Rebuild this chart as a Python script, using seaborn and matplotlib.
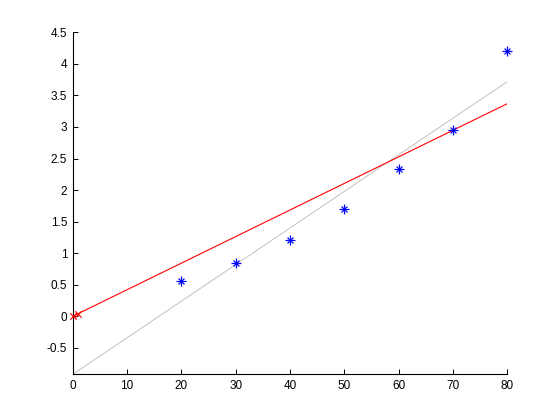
import matplotlib
matplotlib.use("Agg")
import matplotlib.pyplot as plt
import seaborn as sns
import pandas as pd

# data
pts_x = [20, 30, 40, 50, 60, 70, 80]
pts_y = [0.565, 0.85, 1.214, 1.704, 2.337, 2.954, 4.20]
red_line_x = [0, 80]
red_line_y = [0.0, 3.37]
red_mark_x = [0, 1]
red_mark_y = [0.0, 0.042]
gray_line_x = [0, 80]
gray_line_y = [-0.92, 3.72]
x_ticks = [0, 10, 20, 30, 40, 50, 60, 70, 80]
y_ticks = [-0.5, 0, 0.5, 1, 1.5, 2, 2.5, 3, 3.5, 4, 4.5]

sns.set_style("ticks")
plt.rcParams['font.family'] = ['Liberation Sans', 'DejaVu Sans']

fig = plt.figure(figsize=(5.6, 4.2), dpi=100)
ax = fig.add_axes([0.130, 0.1095, 0.776, 0.8135])

gray_df = pd.DataFrame({"x": gray_line_x, "y": gray_line_y})
red_df = pd.DataFrame({"x": red_line_x, "y": red_line_y})
redm_df = pd.DataFrame({"x": red_mark_x, "y": red_mark_y})
pts_df = pd.DataFrame({"x": pts_x, "y": pts_y})

sns.lineplot(data=gray_df, x="x", y="y", ax=ax, color=(0.72, 0.72, 0.72), linewidth=0.6)
sns.lineplot(data=red_df, x="x", y="y", ax=ax, color="red", linewidth=0.8)
sns.scatterplot(data=redm_df, x="x", y="y", ax=ax, marker="x", color="red", s=22, linewidth=0.8, clip_on=False, zorder=3)
sns.scatterplot(data=pts_df, x="x", y="y", ax=ax, marker="+", color="blue", s=60, linewidth=0.9, clip_on=False, zorder=3)
sns.scatterplot(data=pts_df, x="x", y="y", ax=ax, marker="x", color="blue", s=18, linewidth=0.9, clip_on=False, zorder=3)

ax.set_xlim(0, 80)
ax.set_ylim(-0.915, 4.5)
ax.set_xticks(x_ticks)
ax.set_yticks(y_ticks)
ax.set_xticklabels([str(t) for t in x_ticks])
ax.set_yticklabels([("%g" % t) for t in y_ticks])
ax.set_xlabel("")
ax.set_ylabel("")
for s in ["top", "right"]:
    ax.spines[s].set_visible(False)
for s in ["left", "bottom"]:
    ax.spines[s].set_linewidth(0.8)
    ax.spines[s].set_color("black")
ax.tick_params(direction="in", length=3.6, width=0.7, labelsize=8.5, colors="black", pad=4)

fig.savefig("out.png", dpi=100, facecolor="white")
